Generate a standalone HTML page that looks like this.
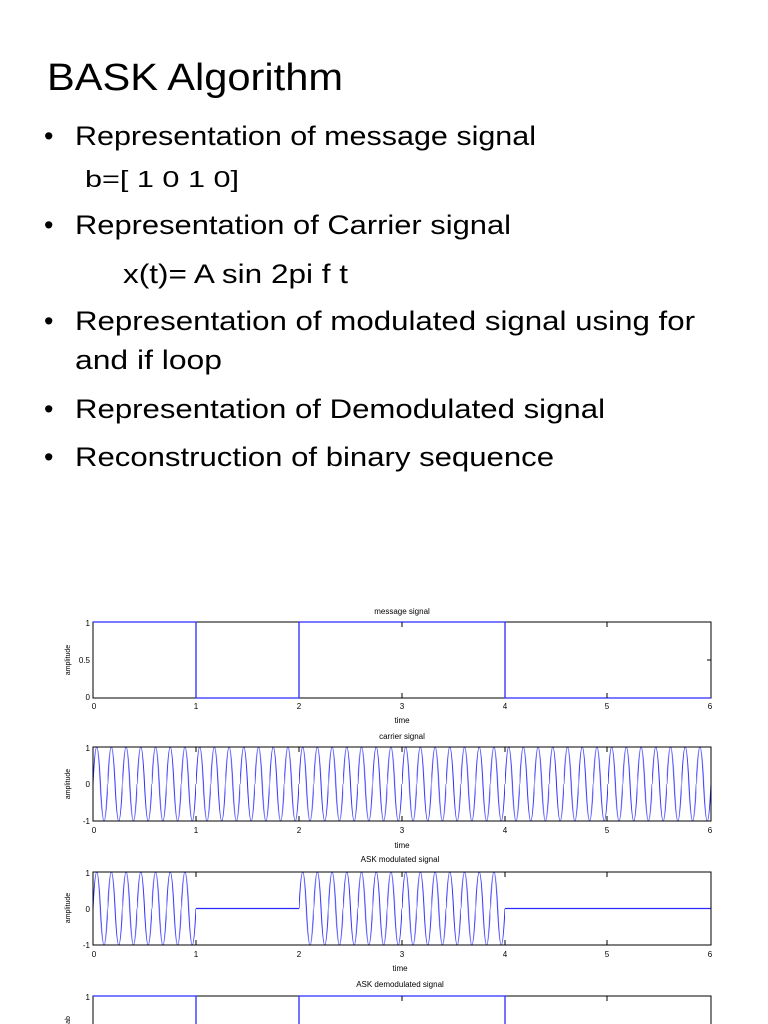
<!DOCTYPE html>
<html><head><meta charset="utf-8"><style>
html,body{margin:0;padding:0;background:#fff;}
svg{display:block}
</style></head><body>
<svg width="768" height="1024" viewBox="0 0 768 1024" xmlns="http://www.w3.org/2000/svg">
<defs>
<pattern id="sw" patternUnits="userSpaceOnUse" width="14.714" height="80" patternTransform="translate(93,744)">
<path d="M0 40 q3.679 -74 7.357 0 t7.357 0" fill="none" stroke="#2a2aff" stroke-width="1"/>
</pattern>
<pattern id="sw2" patternUnits="userSpaceOnUse" width="14.714" height="80" patternTransform="translate(93,868.5)">
<path d="M0 40 q3.679 -73 7.357 0 t7.357 0" fill="none" stroke="#2a2aff" stroke-width="1"/>
</pattern>
</defs>
<g font-family="Liberation Sans, sans-serif" fill="#000">
<text x="47" y="90" font-size="38" textLength="296" lengthAdjust="spacingAndGlyphs">BASK Algorithm</text>
<g font-size="27">
<text x="44" y="145">•</text>
<text x="75" y="145" textLength="461" lengthAdjust="spacingAndGlyphs">Representation of message signal</text>
<text x="85" y="187" font-size="23" textLength="154" lengthAdjust="spacingAndGlyphs">b=[ 1  0  1  0]</text>
<text x="44" y="234">•</text>
<text x="75" y="234" textLength="436" lengthAdjust="spacingAndGlyphs">Representation of Carrier signal</text>
<text x="123" y="283" textLength="225" lengthAdjust="spacingAndGlyphs">x(t)= A sin 2pi f t</text>
<text x="44" y="330">•</text>
<text x="75" y="330" textLength="620" lengthAdjust="spacingAndGlyphs">Representation of modulated signal using for</text>
<text x="75" y="369" textLength="147" lengthAdjust="spacingAndGlyphs">and if loop</text>
<text x="44" y="418">•</text>
<text x="75" y="418" textLength="530" lengthAdjust="spacingAndGlyphs">Representation of Demodulated signal</text>
<text x="44" y="466">•</text>
<text x="75" y="466" textLength="479" lengthAdjust="spacingAndGlyphs">Reconstruction of binary sequence</text>
</g>
</g>

<g font-family="Liberation Sans, sans-serif" font-size="8" fill="#000">
<!-- plot 1 -->
<text x="402" y="614" text-anchor="middle">message signal</text>
<rect x="93" y="622" width="618" height="76" fill="none" stroke="#000" stroke-width="1"/>
<path d="M93 622H196V698H299V622H505V698H711" fill="none" stroke="#2a2aff" stroke-width="1.3"/>
<text x="70" y="660" font-size="7" transform="rotate(-90 70 660)" text-anchor="middle">amplitude</text>
<text x="90" y="626" text-anchor="end">1</text>
<text x="90" y="663" text-anchor="end">0.5</text>
<text x="90" y="700" text-anchor="end">0</text>
<g text-anchor="middle"><text x="94" y="709">0</text><text x="196" y="709">1</text><text x="299" y="709">2</text><text x="402" y="709">3</text><text x="505" y="709">4</text><text x="607" y="709">5</text><text x="710" y="709">6</text></g>
<text x="402" y="723" text-anchor="middle">time</text>
<!-- plot 2 -->
<text x="402" y="739" text-anchor="middle">carrier signal</text>
<rect x="93" y="747" width="618" height="74" fill="url(#sw)"/>
<rect x="93" y="747" width="618" height="74" fill="none" stroke="#000" stroke-width="1"/>
<text x="70" y="784" font-size="7" transform="rotate(-90 70 784)" text-anchor="middle">amplitude</text>
<text x="90" y="751" text-anchor="end">1</text>
<text x="90" y="787" text-anchor="end">0</text>
<text x="90" y="824" text-anchor="end">-1</text>
<g text-anchor="middle"><text x="94" y="833">0</text><text x="196" y="833">1</text><text x="299" y="833">2</text><text x="402" y="833">3</text><text x="505" y="833">4</text><text x="607" y="833">5</text><text x="710" y="833">6</text></g>
<text x="402" y="848" text-anchor="middle">time</text>
<!-- plot 3 -->
<text x="400" y="862" text-anchor="middle">ASK modulated signal</text>
<rect x="93" y="872" width="103" height="73" fill="url(#sw2)"/>
<rect x="299" y="872" width="206" height="73" fill="url(#sw2)"/>
<path d="M196 908.5H299M505 908.5H711" stroke="#2a2aff" stroke-width="1.2"/>
<rect x="93" y="872" width="618" height="73" fill="none" stroke="#000" stroke-width="1"/>
<text x="70" y="908" font-size="7" transform="rotate(-90 70 908)" text-anchor="middle">amplitude</text>
<text x="90" y="876" text-anchor="end">1</text>
<text x="90" y="912" text-anchor="end">0</text>
<text x="90" y="948" text-anchor="end">-1</text>
<g text-anchor="middle"><text x="94" y="957">0</text><text x="196" y="957">1</text><text x="299" y="957">2</text><text x="402" y="957">3</text><text x="505" y="957">4</text><text x="607" y="957">5</text><text x="710" y="957">6</text></g>
<text x="400" y="971" text-anchor="middle">time</text>
<!-- plot 4 -->
<text x="400" y="987" text-anchor="middle">ASK demodulated signal</text>
<rect x="93" y="996" width="618" height="60" fill="none" stroke="#000" stroke-width="1"/>
<path d="M93 996H196V1030M299 1030V996H505V1030" fill="none" stroke="#2a2aff" stroke-width="1.3"/>
<text x="90" y="1000" text-anchor="end">1</text>
<text x="70" y="1020" font-size="7" transform="rotate(-90 70 1020)" text-anchor="middle">ab</text>
</g>
<g stroke="#000" stroke-width="1">
<path d="M402 622v5M607 622v5M402 698v-5M607 698v-5M711 660h-4"/>
<path d="M196 747v5M299 747v5M402 747v5M505 747v5M607 747v5M196 821v-5M299 821v-5M402 821v-5M505 821v-5M607 821v-5"/>
<path d="M196 872v5M402 872v5M505 872v5M607 872v5M196 945v-5M402 945v-5M505 945v-5M607 945v-5"/>
<path d="M402 996v5M607 996v5"/>
</g>
</svg>
</body></html>
